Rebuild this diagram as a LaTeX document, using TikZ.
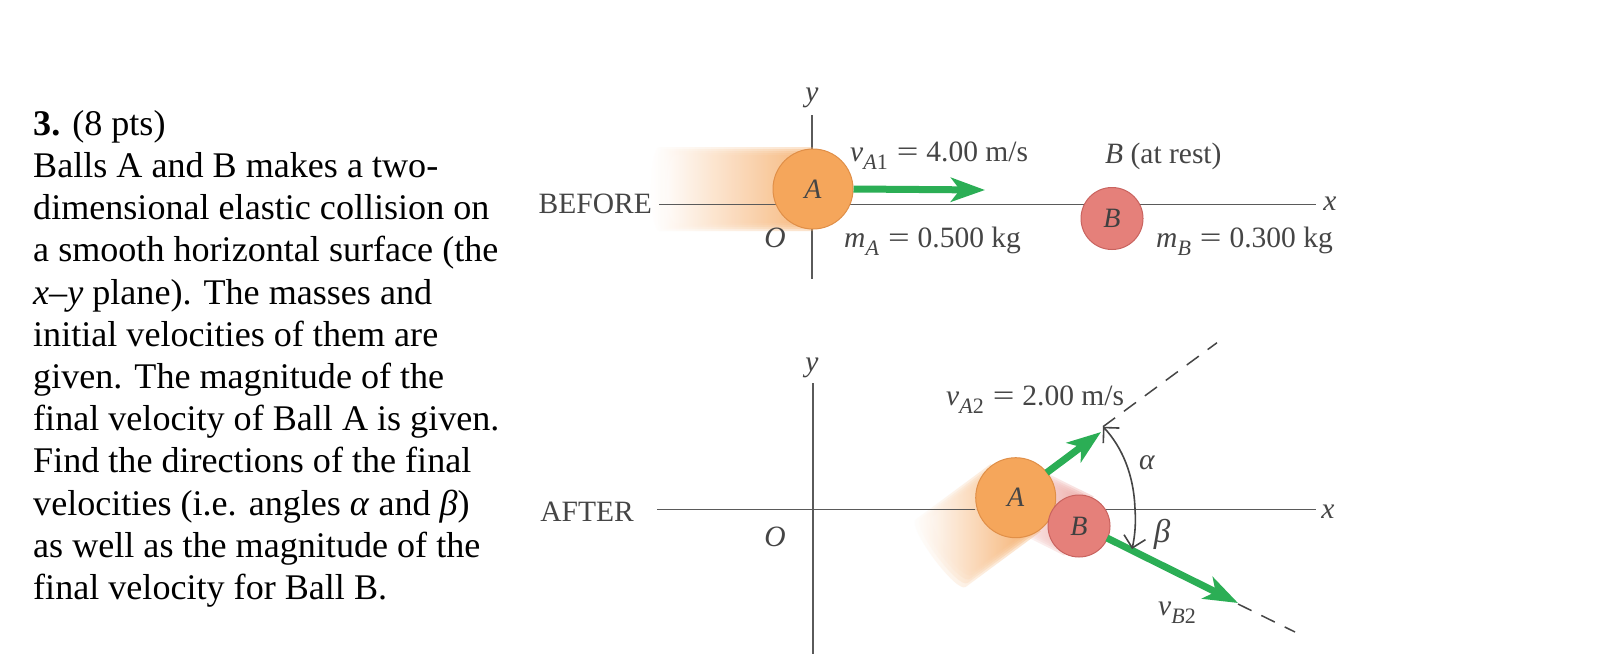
\documentclass[tikz,border=0pt]{standalone}
\usepackage{fontspec}
\setmainfont{Liberation Serif}
\usetikzlibrary{arrows.meta,calc}
\definecolor{inkc}{HTML}{454545}
\definecolor{axisc}{HTML}{5A5A5A}
\definecolor{greenc}{HTML}{2BAE55}
\definecolor{orangec}{HTML}{F5A65B}
\definecolor{orangee}{HTML}{E08F48}
\definecolor{redc}{HTML}{E5807A}
\definecolor{rede}{HTML}{C9635F}
\newcommand{\lbl}{\fontsize{29.5}{31}\selectfont}
\newcommand{\sbs}[1]{\raisebox{-0.28em}{\fontsize{22}{24}\selectfont #1}}
\newcommand{\eqs}{\hspace{9pt}\scalebox{1.3}[1]{=}\hspace{8pt}}
% soft-edged motion trail: #1 length, #2 half width, #3 colour
\newcommand{\softtrail}[3]{%
  \foreach \d in {0,2,4,6,8}{%
    \pgfmathsetmacro{\hw}{#2-\d}%
    \pgfmathsetmacro{\ln}{#1-2*\d}%
    \pgfmathsetmacro{\cn}{\ln-0.28*#2}%
    \shade[left color=white,right color=#3,opacity=0.36]
      (0,-\hw) -- (-\cn,-\hw) .. controls (-\ln,-\hw) and (-\ln,\hw) .. (-\cn,\hw) -- (0,\hw) -- cycle;
  }%
}
\tikzset{
  x=1pt,y=-1pt,
  axisline/.style={draw=axisc,line width=1.8pt},
  ballA/.style={circle,draw=orangee,line width=1pt,fill=orangec,minimum size=80pt,inner sep=0pt,text=inkc,font=\fontsize{28}{30}\selectfont\itshape},
  ballB/.style={circle,draw=rede,line width=1pt,fill=redc,minimum size=62pt,inner sep=0pt,text=black!75,font=\fontsize{28}{30}\selectfont\itshape},
  vec/.style={draw=greenc,line width=7pt,-{Stealth[length=34pt,width=24pt,inset=9pt]}},
  dashline/.style={draw=inkc,line width=1.5pt,dash pattern=on 15pt off 11pt},
  angarc/.style={draw=inkc,line width=1.6pt,-{Straight Barb[length=11pt,width=22pt]}},
  lab/.style={text=inkc,font=\lbl,inner sep=0pt},
  prob/.style={text=black,inner sep=0pt,anchor=north west,align=left,font=\fontsize{36.1}{42.2}\selectfont}
}
\begin{document}
\begin{tikzpicture}
\useasboundingbox (0,0) rectangle (1602,669);
\fill[white] (0,0) rectangle (1602,669);
\node[prob] (problem) at (33,110) {\textbf{3.} (8 pts)\\
Balls A and B makes a two-\\
dimensional elastic collision on\\
a smooth horizontal surface (the\\
\textit{x--y} plane). The masses and\\
initial velocities of them are\\
given. The magnitude of the\\
final velocity of Ball A is given.\\
Find the directions of the final\\
velocities (i.e. angles \textit{α} and \textit{β})\\
as well as the magnitude of the\\
final velocity for Ball B.};
% BEFORE
\coordinate (y1t) at (812,115);
\coordinate (y1b) at (812,279);
\coordinate (x1l) at (659,204.5);
\coordinate (x1r) at (1316,204.5);
\draw[axisline] (y1t) -- (y1b);
\draw[axisline] (x1l) -- (x1r);
\begin{scope}[shift={(813,189)}]
\softtrail{165}{42}{orangec!90}
\end{scope}
\draw[axisline] (x1l) -- (780,204.5);
\node[ballA] (A1) at (813,189) {A};
\node[ballB] (B1) at (1112,218.5) {B};
\coordinate (v1e) at (985,190);
\draw[vec] (A1.east) -- (v1e);
\node[lab,anchor=east] (before) at (652,204) {BEFORE};
\node[lab,text=inkc] (ylab1) at (812,98) {\itshape y};
\node[lab] (xlab1) at (1330,204) {\itshape x};
\node[lab] (olab1) at (775,238) {\itshape O};
\node[lab,anchor=west] (vA1) at (850,156) {\textit{v}\sbs{\textit{A}1}\eqs 4.00 m/s};
\node[lab,anchor=west] (restB) at (1105,156) {\textit{B} (at rest)};
\node[lab,anchor=west] (mA) at (844,241) {\textit{m}\sbs{\textit{A}}\eqs 0.500 kg};
\node[lab,anchor=west] (mB) at (1156,241) {\textit{m}\sbs{\textit{B}}\eqs 0.300 kg};
% AFTER
\coordinate (y2t) at (813,383);
\coordinate (y2b) at (813,654);
\coordinate (x2l) at (657,509.5);
\coordinate (x2r) at (1316,509.5);
\draw[axisline] (y2t) -- (y2b);
\draw[axisline] (x2l) -- (x2r);
\begin{scope}[shift={(1079,526)},rotate=-26.5]
\softtrail{80}{33}{redc!80}
\end{scope}
\begin{scope}[shift={(1015.7,497.7)},rotate=36.5]
\softtrail{105}{42}{orangec}
\end{scope}
\draw[axisline] (x2l) -- (975,509.5);
\node[ballA] (A2) at (1015.7,497.7) {A};
\node[ballB] (B2) at (1079,526) {B};
\coordinate (a2e) at (1101,432);
\coordinate (d2s) at (1103,426.7);
\coordinate (d2e) at (1217,342.7);
\coordinate (b2e) at (1238,603);
\coordinate (d3s) at (1238,604);
\coordinate (d3e) at (1295,632);
\coordinate (arcm) at (1135,509.5);
\coordinate (betae) at (1132,549);
\draw[dashline] (d2s) -- (d2e);
\draw[dashline] (d3s) -- (d3e);
\draw[vec] (A2) ++(31,-25) -- (a2e);
\draw[vec] (B2) ++(28,12) -- (b2e);
\draw[angarc] (arcm) .. controls (1134,475) and (1122,447) .. (d2s);
\draw[angarc] (arcm) .. controls (1136,522) and (1135,536) .. (betae);
\node[lab,anchor=east] (after) at (634,512) {AFTER};
\node[lab] (ylab2) at (812,368) {\itshape y};
\node[lab] (xlab2) at (1328,512) {\itshape x};
\node[lab] (olab2) at (775,537) {\itshape O};
\node[lab,anchor=west] (vA2) at (946,400) {\textit{v}\sbs{\textit{A}2}\eqs 2.00 m/s};
\node[lab] (alpha) at (1147,463) {\textit{α}};
\node[lab,font=\fontsize{33}{35}\selectfont] (beta) at (1162,534) {\textit{β}};
\node[lab,anchor=west] (vB2) at (1158,613) {\textit{v}\sbs{\textit{B}2}};
\end{tikzpicture}
\end{document}
